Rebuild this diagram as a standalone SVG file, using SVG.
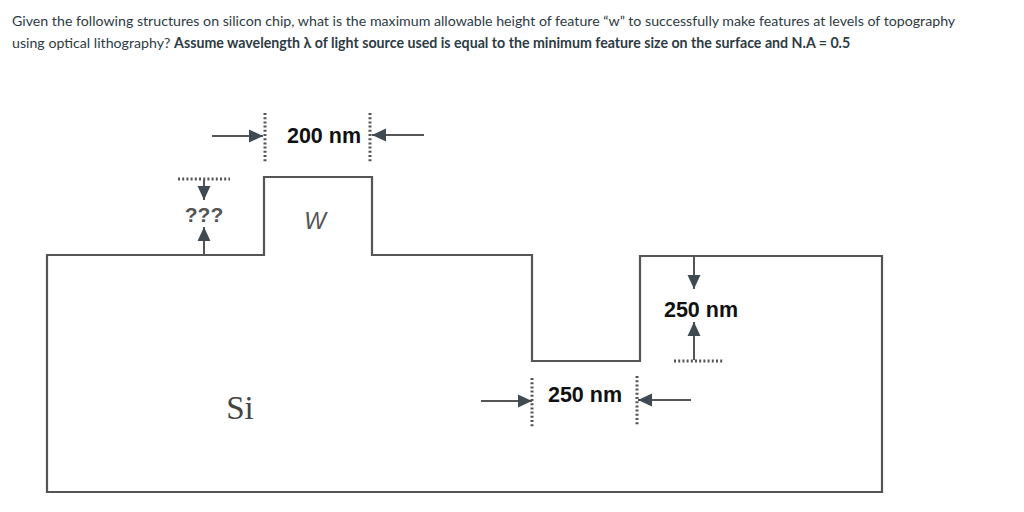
<svg xmlns="http://www.w3.org/2000/svg" width="1024" height="512" viewBox="0 0 1024 512">
<style>
.q{font-family:Lato,"Open Sans",sans-serif;font-size:14.2px;fill:#2d3b45}
.lbl{font-family:"Liberation Sans",Arial,sans-serif;font-size:21.5px;font-weight:bold;fill:#111}
.ln{fill:none;stroke:#555;stroke-width:2.2}
.dot{fill:none;stroke:#555;stroke-width:3;stroke-dasharray:2 2.2}
.ar{stroke:#555;stroke-width:2;marker-end:url(#ah)}
</style>
<defs><marker id="ah" markerWidth="14" markerHeight="14" refX="13" refY="6" orient="auto" markerUnits="userSpaceOnUse" viewBox="0 0 13 12"><path d="M0,0 L13,6 L0,12 Z" fill="#3f4a52"/></marker></defs>
<rect width="1024" height="512" fill="#fff"/>
<text class="q" x="12" y="26">Given the following structures on silicon chip, what is the maximum allowable height of feature “w” to successfully make features at levels of topography</text>
<text class="q" x="12" y="48">using optical lithography? <tspan font-weight="bold">Assume wavelength λ of light source used is equal to the minimum feature size on the surface and N.A = 0.5</tspan></text>
<g id="si">
<path class="ln" d="M47,255 H264 V177 H372 V255 H532 V361 H640 V256 H882 V492 H47 Z"/>
<text x="240" y="419" font-family="Liberation Serif,serif" font-size="33" fill="#444" text-anchor="middle">Si</text>
<text x="315" y="229" font-family="Liberation Sans,Arial,sans-serif" font-size="23" font-style="italic" fill="#555" text-anchor="middle">W</text>
</g>
<g id="connectors">
<line class="dot" x1="265" y1="113" x2="265" y2="162"/>
<line class="dot" x1="370" y1="113" x2="370" y2="162"/>
<line class="ar" x1="212" y1="136" x2="263" y2="136"/>
<line class="ar" x1="424" y1="135" x2="372" y2="135"/>
<line class="dot" x1="178" y1="179" x2="230" y2="179"/>
<line class="ar" x1="204" y1="180" x2="204" y2="200"/>
<line class="ar" x1="204" y1="255" x2="204" y2="227"/>
<line class="ar" x1="694" y1="257" x2="694" y2="289"/>
<line class="ar" x1="694" y1="360" x2="694" y2="322"/>
<line class="dot" x1="674" y1="361" x2="724" y2="361"/>
<line class="dot" x1="532" y1="378" x2="532" y2="427"/>
<line class="dot" x1="637" y1="376" x2="637" y2="426"/>
<line class="ar" x1="481" y1="401" x2="532" y2="401"/>
<line class="ar" x1="691" y1="400" x2="638" y2="400"/>
</g>
<g id="labels">
<text class="lbl" x="324" y="143" text-anchor="middle">200 nm</text>
<text x="204" y="222" font-family="Liberation Sans,Arial,sans-serif" font-size="21" font-weight="bold" fill="#555" text-anchor="middle">???</text>
<text class="lbl" x="701" y="317" text-anchor="middle">250 nm</text>
<text class="lbl" x="585" y="402" text-anchor="middle">250 nm</text>
</g>
</svg>
